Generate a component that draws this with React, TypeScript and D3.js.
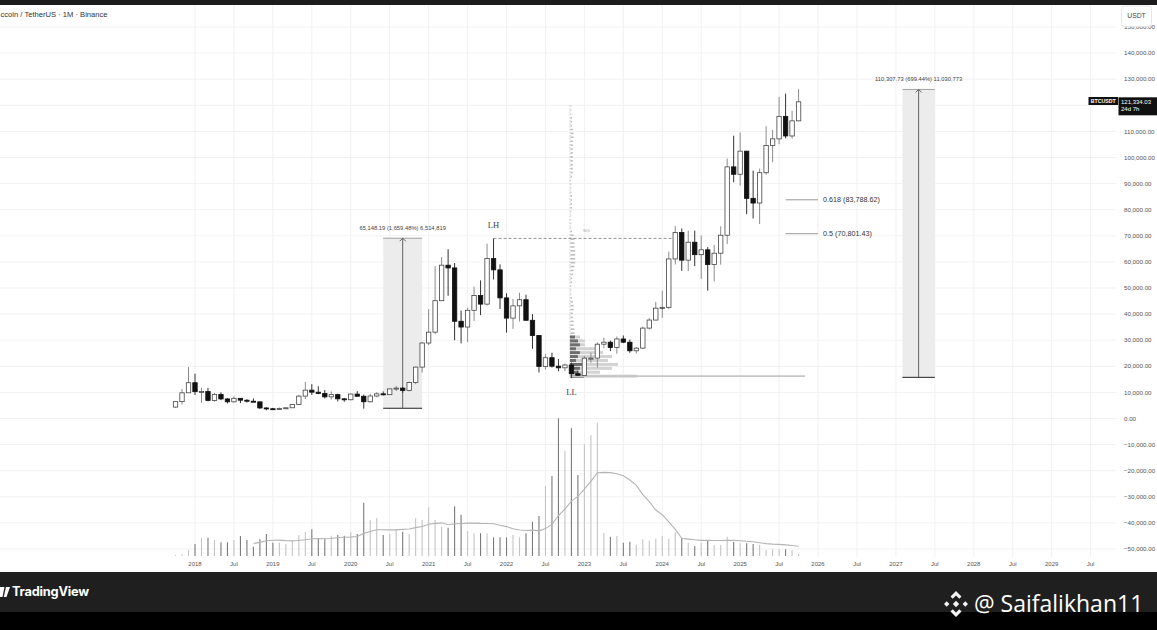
import React from "react";
import * as d3 from "d3";

// ---------- DATA ----------
const months: string[] = [
  "2017-10", "2017-11", "2017-12",
  "2018-01", "2018-02", "2018-03", "2018-04", "2018-05", "2018-06", "2018-07", "2018-08", "2018-09", "2018-10", "2018-11", "2018-12",
  "2019-01", "2019-02", "2019-03", "2019-04", "2019-05", "2019-06", "2019-07", "2019-08", "2019-09", "2019-10", "2019-11", "2019-12",
  "2020-01", "2020-02", "2020-03", "2020-04", "2020-05", "2020-06", "2020-07", "2020-08", "2020-09", "2020-10", "2020-11", "2020-12",
  "2021-01", "2021-02", "2021-03", "2021-04", "2021-05", "2021-06", "2021-07", "2021-08", "2021-09", "2021-10", "2021-11", "2021-12",
  "2022-01", "2022-02", "2022-03", "2022-04", "2022-05", "2022-06", "2022-07", "2022-08", "2022-09", "2022-10", "2022-11", "2022-12",
  "2023-01", "2023-02", "2023-03", "2023-04", "2023-05", "2023-06", "2023-07", "2023-08", "2023-09", "2023-10", "2023-11", "2023-12",
  "2024-01", "2024-02", "2024-03", "2024-04", "2024-05", "2024-06", "2024-07", "2024-08", "2024-09", "2024-10", "2024-11", "2024-12",
  "2025-01", "2025-02", "2025-03", "2025-04", "2025-05", "2025-06", "2025-07", "2025-08", "2025-09", "2025-10",
];

const opens: number[] = [
  4378, 6463, 9838,
  13716, 10285, 10326, 6923, 9246, 7494, 6391, 7730, 7011, 6626, 6371, 4041,
  3742, 3457, 3854, 4105, 5350, 8575, 10855, 10085, 9589, 8289, 9140, 7541,
  7195, 9353, 8524, 6410, 8620, 9448, 9138, 11335, 11650, 10776, 13791, 19695,
  28923, 33092, 45135, 58740, 57694, 37253, 35045, 41461, 47100, 43824, 61300, 56950,
  46216, 38466, 43160, 45510, 37630, 31801, 19942, 23297, 20048, 19423, 20490, 17165,
  16542, 23125, 23141, 28466, 29233, 27210, 30472, 29232, 25941, 26962, 34639, 37723,
  42283, 42582, 61130, 71280, 60672, 67530, 62772, 64628, 58974, 63328, 70215, 96407,
  93576, 102429, 84350, 82548, 94172, 104591, 107135, 115764, 108246, 114048,
];
const highs: number[] = [
  6470, 11300, 19798,
  17176, 11786, 11710, 9759, 10020, 7760, 8507, 7750, 7410, 7680, 6600, 4311,
  4069, 4198, 4140, 5600, 9074, 13970, 13147, 12325, 10905, 10370, 9513, 7750,
  9578, 10500, 9188, 9460, 10067, 10380, 11444, 12468, 12067, 14100, 19863, 29300,
  41950, 58352, 61844, 64854, 59592, 41330, 42448, 50500, 52920, 67000, 69000, 59053,
  47990, 45821, 48189, 47444, 40023, 31982, 24668, 25211, 22799, 21085, 21446, 18387,
  23960, 25250, 29184, 31000, 29820, 31431, 31804, 30244, 27488, 35198, 38450, 44700,
  48969, 63913, 73777, 72797, 71979, 71980, 70079, 65660, 66500, 73620, 99588, 108353,
  109588, 102500, 95000, 95758, 111980, 110530, 123218, 124474, 117900, 126199,
];
const lows: number[] = [
  4110, 5325, 12750,
  9035, 6000, 6600, 6430, 7032, 5755, 6070, 5880, 6111, 6200, 3652, 3156,
  3349, 3400, 3670, 4067, 5338, 7440, 9010, 9320, 7710, 7300, 6515, 6435,
  6871, 8451, 3782, 6150, 8117, 8833, 8977, 10518, 9825, 10375, 13195, 17572,
  28130, 32296, 44950, 47044, 30000, 28805, 29278, 37332, 39600, 43283, 53256, 42000,
  32917, 34322, 37155, 37578, 26700, 17622, 18781, 19520, 18125, 18190, 15476, 16256,
  16499, 21351, 19549, 26942, 25811, 24800, 28861, 25166, 24901, 26538, 34097, 37630,
  38555, 41884, 59005, 56552, 56500, 58402, 53485, 49000, 52550, 58946, 66835, 90500,
  89256, 78258, 76606, 74508, 93346, 98200, 105100, 107350, 107255, 113900,
];
const closes: number[] = [
  6463, 9838, 13716,
  10285, 10326, 6923, 9246, 7494, 6391, 7730, 7011, 6626, 6371, 4041, 3742,
  3457, 3854, 4105, 5350, 8575, 10855, 10085, 9589, 8289, 9140, 7541, 7195,
  9353, 8524, 6410, 8620, 9448, 9138, 11335, 11650, 10776, 13791, 19695, 28923,
  33092, 45135, 58740, 57694, 37253, 35045, 41461, 47100, 43824, 61300, 56950, 46216,
  38466, 43160, 45510, 37630, 31801, 19942, 23293, 20050, 19423, 20491, 17164, 16542,
  23125, 23141, 28466, 29233, 27210, 30472, 29232, 25941, 26962, 34639, 37723, 42283,
  42582, 61130, 71280, 60672, 67530, 62772, 64628, 58974, 63328, 70215, 96407, 93576,
  102429, 84350, 82548, 94172, 104591, 107135, 115764, 108246, 114048, 121334,
];
// monthly volume, thousand BTC (estimated from the bars)
const volumes: number[] = [
  75, 125, 450,
  900, 1375, 1375, 1200, 1025, 1025, 1200, 1500, 1200, 700, 1250, 1650,
  1000, 1000, 875, 1150, 1575, 1775, 2000, 1350, 1250, 1525, 1575, 1525,
  1800, 1650, 4000, 2700, 2850, 1575, 1650, 2000, 1825, 1650, 2850, 2700,
  3650, 2700, 2200, 2125, 3725, 3100, 1875, 1700, 1700, 1700, 1400, 1400,
  1400, 1600, 1400, 1700, 2575, 3000, 5250, 6000, 10325, 7900, 9575, 6075,
  8375, 9075, 10000, 1750, 1450, 1500, 1000, 1075, 825, 1250, 1150, 1300,
  1500, 1300, 1800, 1325, 1000, 750, 1000, 1125, 825, 825, 1450, 1050,
  950, 950, 900, 825, 450, 500, 500, 500, 450, 150,
];
const volumeMaLength = 13;

const yearLabels: string[] = ["2018", "2019", "2020", "2021", "2022", "2023", "2024", "2025", "2026", "2027", "2028", "2029"];
const priceTicks: number[] = [150000, 140000, 130000, 110000, 100000, 90000, 80000, 70000, 60000, 50000, 40000, 30000, 20000, 10000, 0, -10000, -20000, -30000, -40000, -50000];

// fixed range volume profile (Nov 2022 ->)
const profileStart = "2022-11";
const profileLow = 15476;
const profileStep = 1500;
const profileTop = 120000;
const profileDark: number[] = [14, 8, 10, 12, 6, 8, 10, 6, 10, 8, 5];
const profileLight: number[] = [53, 22, 32, 36, 32, 34, 23, 19, 5, 7, 5];
const profileUpper: number[] = [
  5, 5, 4, 4, 3, 3, 4, 4, 3, 2, 1, 1, 1, 2, 2, 3, 4, 5, 6, 6,
  6, 6, 5, 5, 5, 4, 2, 1, 1, 1, 1, 1, 2, 2, 2, 2, 1, 1, 1, 1,
  2, 3, 3, 3, 3, 3, 3, 3, 3, 3, 4, 4, 3, 2, 2, 2, 1, 1, 1,
];
const pocLineEnd = "2025-11";

// annotations
const measure1 = { from: "2020-06", to: "2020-12", low: 3925.81, high: 69074.0, label: "65,148.19 (1,659.48%) 6,514,819" };
const measure2 = { from: "2027-02", to: "2027-07", low: 15771.0, high: 126078.73, label: "110,307.73 (699.44%) 11,030,773" };
const lhLine = { from: "2021-11", to: "2024-03", price: 69000 };
const llPoint = { month: "2022-11", price: 15476 };
const fibLevels = [
  { label: "0.618 (83,788.62)", price: 83788.62 },
  { label: "0.5 (70,801.43)", price: 70801.43 },
];
const fibFrom = "2025-08";
const fibTo = "2026-01";
const lastPrice = 121334.03;

// ---------- CHART ----------
const FONT = "'Liberation Sans', Arial, sans-serif";

const mIdx = (m: string) => {
  const [yy, mm] = m.split("-").map(Number);
  return (yy - 2018) * 12 + (mm - 1);
};

export default function App() {
  const x = d3.scaleLinear().domain([0, 132]).range([195, 195 + 132 * 6.49]);
  const y = d3.scaleLinear().domain([0, 100000]).range([418.5, 157.5]);
  const vy = d3.scaleLinear().domain([0, 10000]).range([556, 422.7]);
  const pw = d3.scaleLinear().domain([0, 10]).range([0, 10]);

  const fmt = d3.format(",.2f");
  const bodyW = 4.4;

  const candles = months.map((m, i) => ({
    i: mIdx(m),
    o: opens[i], h: highs[i], l: lows[i], c: closes[i], v: volumes[i],
  }));

  const ma: [number, number][] = [];
  for (let k = volumeMaLength - 1; k < volumes.length; k++) {
    const avg = d3.mean(volumes.slice(k - volumeMaLength + 1, k + 1)) as number;
    ma.push([x(candles[k].i), vy(avg)]);
  }
  const maPath = d3.line()(ma) || "";

  const xTicks: { idx: number; label: string }[] = [];
  yearLabels.forEach((yl, k) => {
    xTicks.push({ idx: k * 12, label: yl });
    xTicks.push({ idx: k * 12 + 6, label: "Jul" });
  });

  const gridTicks = d3.range(-50000, 160000, 10000);

  const px0 = x(mIdx(profileStart)) - 1.5;
  const lowerProfile = profileDark.map((d, k) => ({ k, dark: d, light: profileLight[k] }));
  const upperProfile = profileUpper.map((d, k) => ({ k: k + profileDark.length, v: d }));

  const measureBox = (mm: typeof measure1, key: string) => {
    const x0 = x(mIdx(mm.from));
    const x1 = x(mIdx(mm.to));
    const xm = (x0 + x1) / 2;
    const yt = y(mm.high);
    const yb = y(mm.low);
    return (
      <g key={key}>
        <rect x={x0} y={yt} width={x1 - x0} height={yb - yt} fill="#ececec" />
        <line x1={x0} x2={x1} y1={yt} y2={yt} stroke="#8a8a8a" strokeWidth={0.8} />
        <line x1={x0} x2={x1} y1={yb} y2={yb} stroke="#222" strokeWidth={1} />
        <line x1={xm} x2={xm} y1={yb} y2={yt} stroke="#555" strokeWidth={0.9} />
        <path d={`M${xm - 3},${yt + 3} L${xm},${yt} L${xm + 3},${yt + 3}`} fill="none" stroke="#555" strokeWidth={0.9} />
        <text x={xm} y={yt - 10} fontSize={5.8} fill="#444" textAnchor="middle" dy="0.35em" fontFamily={FONT}>{mm.label}</text>
      </g>
    );
  };

  return (
    <svg width={1157} height={630} style={{ position: "fixed", left: 0, top: 0, background: "#fff" }} fontFamily={FONT}>
      <rect x={0} y={0} width={1157} height={630} fill="#fff" />
      {/* grid */}
      {gridTicks.map((t) => (
        <line key={"h" + t} x1={0} x2={1116} y1={y(t)} y2={y(t)} stroke="#f1f1f1" strokeWidth={1} />
      ))}
      {xTicks.map((t) => (
        <line key={"v" + t.idx} x1={x(t.idx)} x2={x(t.idx)} y1={5} y2={557} stroke="#f1f1f1" strokeWidth={1} />
      ))}

      {/* measurement boxes */}
      {measureBox(measure1, "m1")}
      {measureBox(measure2, "m2")}

      {/* volume bars */}
      {candles.map((d) => (
        <line key={"v" + d.i} x1={x(d.i)} x2={x(d.i)} y1={vy(0)} y2={vy(d.v)}
          stroke={d.c >= d.o ? "#c4c4c4" : "#7a7a7a"} strokeWidth={1.1} />
      ))}
      <path d={maPath} fill="none" stroke="#b4b4b4" strokeWidth={1.1} />

      {/* volume profile */}
      <line x1={px0} x2={px0} y1={y(profileTop)} y2={y(profileLow)} stroke="#b0b0b0" strokeWidth={0.7} strokeDasharray="1.2,1.8" />
      {upperProfile.map((p) => {
        const yMid = y(profileLow + (p.k + 0.5) * profileStep);
        return <rect key={"u" + p.k} x={px0 + 0.5} y={yMid - 0.8} width={pw(p.v) * 0.8} height={1.6} fill="#bdbdbd" />;
      })}
      {lowerProfile.map((p) => {
        const yTop = y(profileLow + (p.k + 1) * profileStep);
        const yBot = y(profileLow + p.k * profileStep);
        const hh = Math.max(0.8, yBot - yTop - 0.9);
        return (
          <g key={"p" + p.k}>
            <rect x={px0} y={yTop + 0.45} width={pw(p.dark + p.light)} height={hh} fill="#d2d2d2" />
            <rect x={px0} y={yTop + 0.45} width={pw(p.dark)} height={hh} fill="#6e6e6e" />
          </g>
        );
      })}
      <line x1={px0} x2={x(mIdx(pocLineEnd))} y1={y(profileLow + profileStep / 2)} y2={y(profileLow + profileStep / 2)} stroke="#c6c6c6" strokeWidth={1.6} />
      <text x={px0 + 13} y={y(69500) - 6} fontSize={3.5} fill="#999" dy="0.35em">90%</text>

      {/* LH dashed line */}
      <line x1={x(mIdx(lhLine.from))} x2={x(mIdx(lhLine.to))} y1={y(lhLine.price)} y2={y(lhLine.price)} stroke="#777" strokeWidth={0.8} strokeDasharray="3,2" />
      <text x={x(mIdx(lhLine.from))} y={y(lhLine.price) - 13} fontSize={8.5} fill="#444" textAnchor="middle" dy="0.35em" fontFamily="'Liberation Serif', serif">LH</text>
      <text x={x(mIdx(llPoint.month))} y={y(llPoint.price) + 14} fontSize={8.5} fill="#444" textAnchor="middle" dy="0.35em" fontFamily="'Liberation Serif', serif">LL</text>

      {/* candles */}
      {candles.map((d) => {
        const up = d.c >= d.o;
        const cx = x(d.i);
        const top = y(Math.max(d.o, d.c));
        const bot = y(Math.min(d.o, d.c));
        return (
          <g key={"c" + d.i}>
            <line x1={cx} x2={cx} y1={y(d.h)} y2={y(d.l)} stroke={up ? "#8c8c8c" : "#333"} strokeWidth={1} />
            <rect x={cx - bodyW / 2} y={top} width={bodyW} height={Math.max(1, bot - top)}
              fill={up ? "#fff" : "#111"} stroke={up ? "#444" : "#111"} strokeWidth={0.8} />
          </g>
        );
      })}

      {/* fib levels */}
      {fibLevels.map((f) => (
        <g key={f.label}>
          <line x1={x(mIdx(fibFrom))} x2={x(mIdx(fibTo))} y1={y(f.price)} y2={y(f.price)} stroke="#9a9a9a" strokeWidth={1} />
          <text x={x(mIdx(fibTo)) + 5} y={y(f.price)} fontSize={7.2} fill="#333" dy="0.35em">{f.label}</text>
        </g>
      ))}

      {/* price axis */}
      {priceTicks.map((t) => (
        <text key={"pt" + t} x={1124} y={y(t)} fontSize={6.2} fill="#555" dy="0.35em">{fmt(t)}</text>
      ))}
      <rect x={1121.5} y={6} width={30} height={20.5} rx={3} fill="#fff" stroke="#e0e0e0" strokeWidth={0.8} />
      <text x={1136.5} y={16} fontSize={6.8} fill="#444" textAnchor="middle" dy="0.35em">USDT</text>

      {/* last price label */}
      <rect x={1088.5} y={97} width={29.5} height={8} fill="#111" />
      <text x={1103.2} y={101.2} fontSize={5.2} fill="#fff" textAnchor="middle" dy="0.35em" fontWeight="bold">BTCUSDT</text>
      <rect x={1118.5} y={y(lastPrice) - 4.5} width={38.5} height={18} fill="#111" />
      <text x={1121} y={y(lastPrice)} fontSize={6} fill="#fff" dy="0.35em">{fmt(lastPrice)}</text>
      <text x={1121} y={y(lastPrice) + 7.5} fontSize={6} fill="#fff" dy="0.35em">24d 7h</text>

      {/* time axis */}
      {xTicks.map((t) => (
        <text key={"xt" + t.idx} x={x(t.idx)} y={564} fontSize={6} fill="#555" textAnchor="middle" dy="0.35em">{t.label}</text>
      ))}

      {/* header */}
      <rect x={0} y={0} width={1157} height={5} fill="#1c1c1c" />
      <text x={0.5} y={14} fontSize={7.6} fill="#333" dy="0.35em">ccoin / TetherUS · 1M · Binance</text>

      {/* footer */}
      <rect x={0} y={572} width={1157} height={40} fill="#1f1f1f" />
      <rect x={0} y={612} width={1157} height={18} fill="#000" />
      <path d="M0,587 L4.5,587 L2.5,597 L0,597 Z M6,587 L10,587 L6.5,597 L3.8,597 Z" fill="#fff" />
      <text x={12} y={592} fontSize={12.8} fontWeight="bold" fill="#fff" dy="0.35em" fontFamily="Inter, 'Noto Sans', sans-serif" letterSpacing={-0.2}>TradingView</text>

      {/* watermark */}
      <g fill="#fff" opacity={0.95}>
        <path d="M956,591 L961.5,596.5 L959.3,598.7 L956,595.4 L952.7,598.7 L950.5,596.5 Z" />
        <path d="M956,617 L961.5,611.5 L959.3,609.3 L956,612.6 L952.7,609.3 L950.5,611.5 Z" />
        <path d="M944,604 L946.7,601.3 L949.4,604 L946.7,606.7 Z" />
        <path d="M962.6,604 L965.3,601.3 L968,604 L965.3,606.7 Z" />
        <path d="M956,600.8 L959.2,604 L956,607.2 L952.8,604 Z" />
      </g>
      <text x={974} y={604} fontSize={23} fill="#fff" dy="0.35em" fontFamily="'Open Sans', 'Noto Sans', sans-serif">@ Saifalikhan11</text>
    </svg>
  );
}
